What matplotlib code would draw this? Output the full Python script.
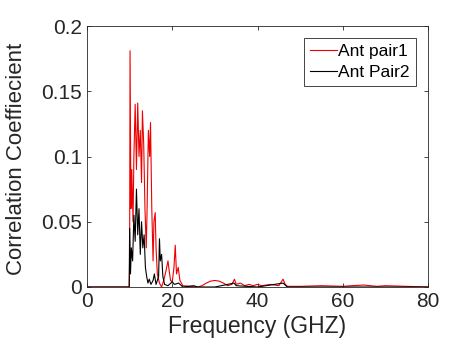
import matplotlib
matplotlib.use('Agg')
import matplotlib.pyplot as plt

# Ant pair1 (red) - frequency in GHz, correlation coefficient
freq_red = [0, 9.9, 10.0, 10.1, 10.3, 10.5, 10.8, 11.0, 11.3, 11.6, 11.9, 12.2, 12.5,
            12.8, 13.0, 13.3, 13.6, 13.9, 14.1, 14.4, 14.7, 14.9, 15.2, 15.5, 15.7,
            16.0, 16.2, 16.5, 17.0, 17.5, 18.0, 18.5, 19.0, 19.3, 19.6, 20.0, 20.4,
            20.7, 21.0, 21.4, 21.8, 22.5, 24, 26, 27, 28, 29, 30, 31, 32, 33, 34,
            34.6, 35, 36, 37, 38, 39, 40, 41, 43, 45, 46, 46.5, 47, 50, 55, 60, 62,
            65, 68, 70, 75, 80]
corr_red = [0, 0, 0.02, 0.181, 0.06, 0.09, 0.05, 0.10, 0.14, 0.09, 0.141, 0.10, 0.12,
            0.08, 0.135, 0.11, 0.06, 0.03, 0.06, 0.12, 0.10, 0.126, 0.06, 0.02, 0.05,
            0.057, 0.03, 0.01, 0.003, 0.0, 0.005, 0.012, 0.02, 0.012, 0.005, 0.004, 0.015,
            0.032, 0.01, 0.015, 0.005, 0.001, 0.0005, 0.0, 0.001, 0.003, 0.0045, 0.005,
            0.0045, 0.003, 0.001, 0.002, 0.006, 0.002, 0.003, 0.001, 0.002, 0.001, 0.002,
            0.001, 0.002, 0.001, 0.006, 0.002, 0.0005, 0.0005, 0.001, 0.0005, 0.001,
            0.0015, 0.0005, 0.001, 0.0005, 0.0]

# Ant Pair2 (black)
freq_blk = [0, 9.9, 10.0, 10.2, 10.4, 10.7, 11.0, 11.3, 11.6, 11.9, 12.2, 12.5, 12.8,
            13.1, 13.4, 13.7, 14.0, 14.3, 14.6, 15.0, 15.5, 15.8, 16.2, 16.8, 17.0,
            17.2, 17.5, 17.8, 18.2, 19, 20, 20.5, 21.5, 22.5, 25, 26, 30, 34.5, 35,
            40, 46, 47, 60, 80]
corr_blk = [0, 0, 0.045, 0.01, 0.03, 0.02, 0.055, 0.035, 0.075, 0.04, 0.06, 0.025, 0.05,
            0.03, 0.04, 0.015, 0.008, 0.003, 0.006, 0.002, 0.005, 0.01, 0.002, 0.008, 0.037,
            0.02, 0.025, 0.008, 0.002, 0.001, 0.004, 0.002, 0.003, 0.0, 0.001, 0.0, 0.0,
            0.003, 0.001, 0.0, 0.003, 0.0, 0.0, 0.0]

plt.rcParams['font.family'] = ['Liberation Sans', 'DejaVu Sans']

fig = plt.figure(figsize=(4.74, 3.55), dpi=100)
ax = fig.add_axes([87 / 474, 1 - 287 / 355, (428 - 87) / 474, (287 - 26) / 355])

ax.plot(freq_red, corr_red, color='#ee0000', linewidth=0.8, label='Ant pair1')
ax.plot(freq_blk, corr_blk, color='black', linewidth=0.8, label='Ant Pair2')

ax.set_xlim(0, 80)
ax.set_ylim(0, 0.2)
ax.set_xticks([0, 20, 40, 60, 80])
ax.set_yticks([0, 0.05, 0.1, 0.15, 0.2])
ax.set_yticklabels(['0', '0.05', '0.1', '0.15', '0.2'])
ax.tick_params(direction='in', top=True, right=True, labelsize=15,
               colors='#262626', length=3, width=0.6)
for s in ax.spines.values():
    s.set_color('#262626')
    s.set_linewidth(0.6)

ax.set_xlabel('Frequency (GHZ)', fontsize=16.5, color='#262626', labelpad=3)
ax.set_ylabel('Correlation Coeffiecient', fontsize=16, color='#262626')
ax.yaxis.set_label_coords(-0.175, 0.49)

leg = ax.legend(loc='upper right', fontsize=12.5, handlelength=1.5, fancybox=False,
                framealpha=1, edgecolor='#262626', borderpad=0.35, labelspacing=0.3,
                handletextpad=0.1, borderaxespad=0.7)
leg.get_frame().set_linewidth(0.6)

plt.savefig('out.png', dpi=100)
